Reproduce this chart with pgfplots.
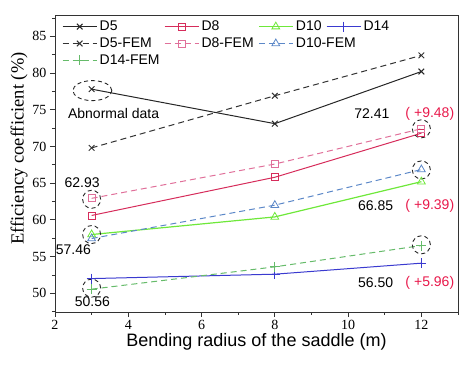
\documentclass[border=0pt]{standalone}
\usepackage{pgfplots}
\pgfplotsset{compat=1.18}
\usepackage{fontspec}
\setmainfont{Liberation Serif}
\setsansfont{Liberation Sans}
\definecolor{cD5}{HTML}{262626}
\definecolor{cD8}{HTML}{D62C5B}
\definecolor{cD10}{HTML}{6EE83A}
\definecolor{cD14}{HTML}{3A3ACF}
\definecolor{cD5f}{HTML}{333333}
\definecolor{cD8f}{HTML}{E0709A}
\definecolor{cD10f}{HTML}{5C88C8}
\definecolor{cD14f}{HTML}{66BB6A}
\definecolor{cRed}{HTML}{E8194B}
\begin{document}
\begin{tikzpicture}
\begin{axis}[
  scale only axis, width=403pt, height=297pt,
  xmin=2, xmax=13, ymin=47.45, ymax=87.9,
  xtick={2,4,...,12}, minor xtick={3,5,...,13},
  ytick={50,55,...,85}, minor ytick={47.5,52.5,...,87.5},
  xtick pos=left, ytick pos=left, tick align=outside,
  major tick length=5pt, minor tick length=3pt,
  axis line style={line width=0.9pt, color=black!80},
  every tick/.style={black!80, line width=0.8pt},
  ticklabel style={font=\fontsize{14}{16}\selectfont},
  /pgf/number format/assume math mode=true,
  xlabel={\sffamily Bending radius of the saddle (m)},
  xlabel style={font=\fontsize{18}{20}\selectfont, yshift=3pt},
  ylabel={Efficiency coefficient (\%)},
  ylabel style={font=\fontsize{18.5}{20}\selectfont, at={(ticklabel cs:0.55)}, yshift=-2pt},
  legend columns=4,
  legend cell align=left,
  legend style={at={(axis description cs:0,1)}, anchor=north west, draw=none, fill=none,
    xshift=4pt, yshift=-1pt, font=\sffamily\fontsize{14}{16}\selectfont,
    nodes={inner ysep=2.8pt, inner xsep=2.5pt}, row sep=0pt,
    /tikz/every even column/.append style={column sep=2pt}},
  legend image code/.code={\draw[mark repeat=2,mark phase=2] plot coordinates {(0pt,0pt)(17pt,0pt)(34pt,0pt)};},
  every axis plot/.append style={line width=1pt},
]
\addplot[cD5, mark=x, mark size=4pt] coordinates {(3,77.8)(8,73.1)(12,80.2)};
\addlegendentry{D5}
\addplot[cD8, mark=square, mark size=3.5pt, mark options={line width=0.8pt}] coordinates {(3,60.6)(8,65.8)(12,71.8)};
\addlegendentry{D8}
\addplot[cD10, line width=1.2pt, mark=triangle, mark size=4.5pt, mark options={line width=0.8pt}] coordinates {(3,58.0)(8,60.4)(12,65.2)};
\addlegendentry{D10}
\addplot[cD14, mark=+, mark size=5pt] coordinates {(3,52.0)(8,52.6)(12,54.1)};
\addlegendentry{D14}
\addplot[cD5f, dash pattern=on 6pt off 4pt, mark=x, mark size=4pt, mark options={solid}] coordinates {(3,69.8)(8,76.9)(12,82.4)};
\addlegendentry{D5-FEM}
\addplot[cD8f, dash pattern=on 6pt off 4pt, mark=square, mark size=3.5pt, mark options={solid, line width=0.8pt}] coordinates {(3,62.93)(8,67.6)(12,72.41)};
\addlegendentry{D8-FEM}
\addplot[cD10f, dash pattern=on 6pt off 4pt, mark=triangle, mark size=4.5pt, mark options={solid, line width=0.8pt}] coordinates {(3,57.46)(8,62.0)(12,66.85)};
\addlegendentry{\rlap{D10-FEM}\phantom{D10}}
\addlegendimage{empty legend}
\addlegendentry{}
\addplot[cD14f, dash pattern=on 6pt off 4pt, mark=+, mark size=5pt, mark options={solid}] coordinates {(3,50.56)(8,53.6)(12,56.50)};
\addlegendentry{D14-FEM}

% annotations
\draw[black!85, line width=0.9pt, dash pattern=on 4pt off 3pt] (axis cs:3.02,77.6) ellipse [x radius=19.5pt, y radius=10pt];
\draw[black!85, line width=0.9pt, dash pattern=on 4pt off 3pt] (axis cs:3,62.8) ellipse [x radius=9pt, y radius=9pt];
\draw[black!85, line width=0.9pt, dash pattern=on 4pt off 3pt] (axis cs:3,58.0) ellipse [x radius=9pt, y radius=9pt];
\draw[black!85, line width=0.9pt, dash pattern=on 4pt off 3pt] (axis cs:3,50.7) ellipse [x radius=9pt, y radius=9pt];
\draw[black!85, line width=0.9pt, dash pattern=on 4pt off 3pt] (axis cs:12,72.4) ellipse [x radius=9pt, y radius=9pt];
\draw[black!85, line width=0.9pt, dash pattern=on 4pt off 3pt] (axis cs:12,66.8) ellipse [x radius=9pt, y radius=9pt];
\draw[black!85, line width=0.9pt, dash pattern=on 4pt off 3pt] (axis cs:12,56.6) ellipse [x radius=9pt, y radius=9pt];
\node[font=\sffamily\fontsize{14}{16}\selectfont, inner sep=0pt] at (axis cs:3.6,74.5) {Abnormal data};
\node[font=\sffamily\fontsize{14}{16}\selectfont, inner sep=0pt] at (axis cs:2.74,65.0) {62.93};
\node[font=\sffamily\fontsize{14}{16}\selectfont, inner sep=0pt] at (axis cs:2.5,56.0) {57.46};
\node[font=\sffamily\fontsize{14}{16}\selectfont, inner sep=0pt] at (axis cs:3.02,48.9) {50.56};
\node[font=\sffamily\fontsize{14}{16}\selectfont, inner sep=0pt] at (axis cs:10.65,74.5) {72.41};
\node[font=\sffamily\fontsize{14}{16}\selectfont, inner sep=0pt] at (axis cs:10.75,61.9) {66.85};
\node[font=\sffamily\fontsize{14}{16}\selectfont, inner sep=0pt] at (axis cs:10.75,51.4) {56.50};
\node[font=\sffamily\fontsize{14}{16}\selectfont, inner sep=0pt, anchor=west, text=cRed] at (axis cs:11.56,74.5) {(\hspace{4pt}+9.48)};
\node[font=\sffamily\fontsize{14}{16}\selectfont, inner sep=0pt, anchor=west, text=cRed] at (axis cs:11.56,61.9) {(\hspace{4pt}+9.39)};
\node[font=\sffamily\fontsize{14}{16}\selectfont, inner sep=0pt, anchor=west, text=cRed] at (axis cs:11.56,51.4) {(\hspace{4pt}+5.96)};
\end{axis}
\path (current axis.south west) ++(-55pt,-54pt) coordinate (bbA);
\path (current axis.north east) ++(16pt,15pt) coordinate (bbB);
\path (bbA) rectangle (bbB);
\end{tikzpicture}
\end{document}
